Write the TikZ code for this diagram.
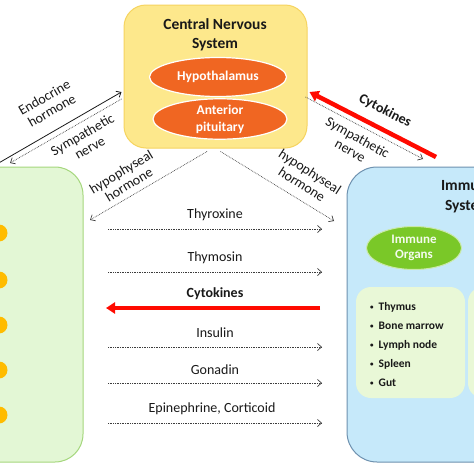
\documentclass[tikz,border=0pt]{standalone}
\usepackage{fontspec}
\setmainfont{Carlito}
\usetikzlibrary{arrows.meta,shapes.geometric}
\definecolor{cnsfill}{RGB}{253,232,140}
\definecolor{cnsdraw}{RGB}{246,212,96}
\definecolor{orgfill}{RGB}{240,102,34}
\definecolor{endofill}{RGB}{227,247,213}
\definecolor{endodraw}{RGB}{165,215,125}
\definecolor{dotyel}{RGB}{255,188,0}
\definecolor{immfill}{RGB}{198,233,250}
\definecolor{immdraw}{RGB}{110,145,175}
\definecolor{organfill}{RGB}{122,200,40}
\definecolor{listfill}{RGB}{233,248,215}
\definecolor{redarr}{RGB}{255,10,0}
\definecolor{txt}{RGB}{25,25,25}
\definecolor{dotc}{RGB}{60,60,60}
\newcommand{\smbul}{{\fontsize{7}{7}\selectfont\raisebox{1pt}{•}}\hspace{5pt}}
\begin{document}
\begin{tikzpicture}[x=1pt,y=-1pt,
  bigbox/.style={rectangle,rounded corners=22pt,line width=1pt,inner sep=0pt},
  organ/.style={ellipse,fill=orgfill,draw=white,line width=1.2pt,inner sep=0pt,text=white,align=center,font=\bfseries\fontsize{13.5}{17}\selectfont},
  lab/.style={align=center,text=txt,font=\fontsize{14}{15}\selectfont,inner sep=1pt},
  blab/.style={lab,font=\bfseries\fontsize{14}{15}\selectfont},
  dotarr/.style={dotc,line width=0.7pt,densely dotted,-{Straight Barb[length=4pt,width=7pt,line width=0.7pt]}},
  solarr/.style={txt,line width=0.8pt,-{Straight Barb[length=4pt,width=7pt,line width=0.8pt]}},
  redarrow/.style={redarr,line width=4.5pt,-{Triangle[length=9pt,width=11pt]}},
  ydot/.style={circle,fill=dotyel,minimum size=17pt,inner sep=0pt}
]
\useasboundingbox (0,0) rectangle (474,474);
\clip (0,0) rectangle (474,474);
\fill[white] (0,0) rectangle (474,474);

% Central Nervous System
\node[bigbox,fill=cnsfill,draw=cnsdraw,minimum width=183pt,minimum height=143pt] (cns) at (215.5,76.5) {};
\node[align=center,text=txt,font=\bfseries\fontsize{15.5}{19}\selectfont] (cnst) at (215,35) {Central Nervous\\System};
\node[organ,minimum width=137pt,minimum height=39pt] (hyp) at (218,77) {Hypothalamus};
\node[organ,minimum width=134pt,minimum height=38pt] (ant) at (220,119) {Anterior\\pituitary};

% Endocrine system (left, cropped)
\node[bigbox,rounded corners=28pt,fill=endofill,draw=endodraw,minimum width=140pt,minimum height=295pt] (endo) at (13,314.5) {};
\foreach \yy/\nm in {233/a,280/b,325/c,370/d,415/e}
  \node[ydot] (g\nm) at (-1,\yy) {};

% Immune system (right, cropped)
\node[bigbox,rounded corners=30pt,fill=immfill,draw=immdraw,minimum width=213pt,minimum height=295pt] (imm) at (453.5,314.5) {};
\node[align=center,text=txt,font=\bfseries\fontsize{15.5}{20}\selectfont] (immt) at (468,197) {Immune\\System};
\node[ellipse,fill=organfill,draw=white!60!organfill,line width=1pt,inner sep=0pt,minimum width=95pt,minimum height=43pt,text=white!92!organfill,align=center,font=\bfseries\fontsize{13}{15.5}\selectfont] (iorg) at (414,248) {Immune\\Organs};
\node[rectangle,rounded corners=15pt,fill=listfill,minimum width=109pt,minimum height=111pt] (list) at (410.5,342.5) {};
\node[rectangle,rounded corners=15pt,fill=listfill,minimum width=109pt,minimum height=111pt] (list2) at (522.5,342.5) {};
\node[anchor=west,align=left,text=txt,font=\bfseries\fontsize{11.5}{19}\selectfont,inner sep=0pt] (items) at (370,344.5)
  {\smbul Thymus\\\smbul Bone marrow\\\smbul Lymph node\\\smbul Spleen\\\smbul Gut};

% free ends
\coordinate (eL) at (-3,164);
\coordinate (sL) at (10,163);
\coordinate (hL) at (90,220);
\coordinate (hR) at (334,221);
\coordinate (sR) at (423,159);
\coordinate (cR) at (436,157);

% diagonal connectors
\draw[solarr] (eL) -- ([xshift=-2pt,yshift=-15.5pt]cns.west);
\draw[dotarr] ([xshift=-2pt,yshift=-22.5pt]cns.west) -- (sL);
\draw[dotarr] ([xshift=-8.5pt,yshift=-3pt]cns.south) -- (hL);
\draw[dotarr] ([xshift=5pt,yshift=-3pt]cns.south) -- (hR);
\draw[dotarr] ([xshift=-2pt,yshift=-20.5pt]cns.east) -- (sR);
\draw[redarrow] (cR) -- ([xshift=2pt,yshift=-15.5pt]cns.east);

% diagonal labels
\node[lab,rotate=30] (l1) at (48,104) {Endocrine\\hormone};
\node[lab,rotate=30] (l2) at (86,141) {Sympathetic\\nerve};
\node[lab,rotate=31] (l3) at (125,178) {hypophyseal\\hormone};
\node[lab,rotate=-33] (l4) at (306,178) {hypophyseal\\hormone};
\node[lab,rotate=-29] (l5) at (354,144) {Sympathetic\\nerve};
\node[blab,rotate=-27] (l6) at (385,111) {Cytokines};

% horizontal connectors
\foreach \yy/\nm in {229/a,272/b,347/d,383/e,423/f}{
  \coordinate (hs\nm) at (108,\yy);
  \coordinate (he\nm) at (322,\yy);
  \draw[dotarr] (hs\nm) -- (he\nm);
}
\coordinate (rs) at (320,308);
\coordinate (re) at (106,308);
\draw[redarrow] (rs) -- (re);

\node[lab] (t1) at (215,215) {Thyroxine};
\node[lab] (t2) at (215,258) {Thymosin};
\node[blab] (t3) at (215,294) {Cytokines};
\node[lab] (t4) at (215,333) {Insulin};
\node[lab] (t5) at (215,370) {Gonadin};
\node[lab] (t6) at (212,409) {Epinephrine, Corticoid};
\end{tikzpicture}
\end{document}
